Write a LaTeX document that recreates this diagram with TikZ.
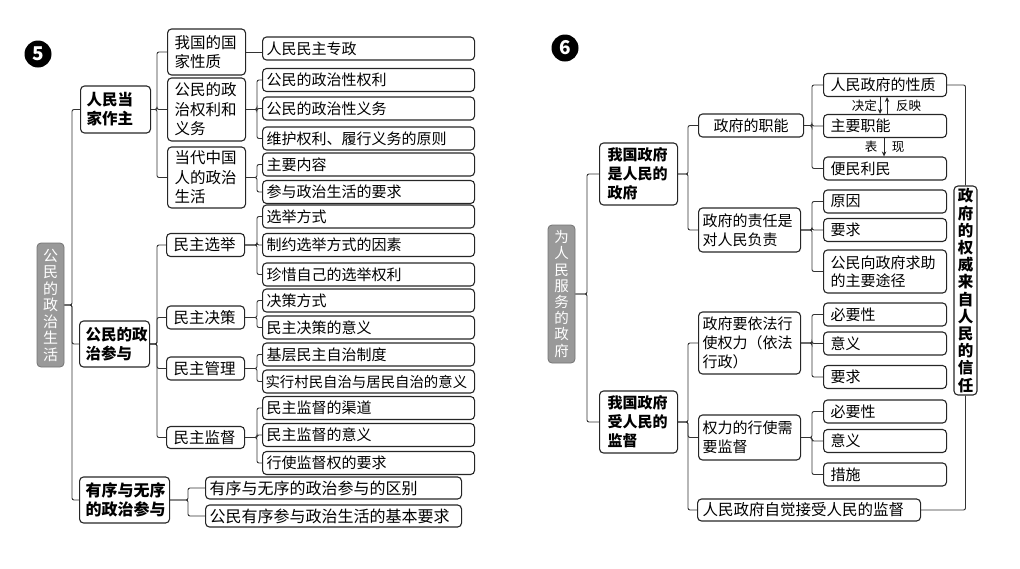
\documentclass[tikz,border=0pt]{standalone}
\usepackage{fontspec}
\setmainfont{Noto Sans CJK SC}
\usetikzlibrary{arrows.meta}
\newcommand\fsz[2]{\fontsize{#1}{#2}\selectfont}
\begin{document}
\begin{tikzpicture}[x=1pt,y=-1pt,
  box/.style={draw=black!85, line width=1.1pt, rounded corners=4pt, inner ysep=0pt, anchor=west, align=left},
  lvone/.style={box, font=\bfseries\fsz{15.5}{19}, inner xsep=6pt, text width=58pt},
  lvtwo/.style={box, font=\fsz{15.5}{19.5}, inner xsep=7pt, text width=64pt},
  leaf/.style={box, font=\fsz{15}{18}, inner xsep=4pt, text width=204pt, minimum height=23pt},
  bleaf/.style={box, font=\fsz{16}{18}, inner xsep=4pt, text width=248pt, minimum height=22pt},
  rone/.style={box, font=\bfseries\fsz{15}{19}, inner xsep=8pt, text width=62pt, minimum height=62pt},
  rtwo/.style={box, font=\fsz{15}{19}, inner xsep=4pt, text width=94pt},
  rthree/.style={box, font=\fsz{15}{18.5}, inner xsep=7pt, text width=109pt, minimum height=23pt},
  graybox/.style={draw=black!55, fill=black!40, line width=0.8pt, rounded corners=4pt, text=white, align=center, inner sep=0pt, minimum width=27pt},
  badge/.style={circle, fill=black, text=white, inner sep=0pt, minimum size=27pt, font=\bfseries\fsz{19}{19}},
  conn/.style={draw=black!80, line width=0.9pt, rounded corners=2pt},
  arr/.style={draw=black!85, line width=0.9pt, -{Stealth[length=5pt,width=4.5pt]}},
  lbl/.style={font=\fsz{12.5}{13}, inner sep=0pt}]
\useasboundingbox (0,0) rectangle (1020,568);

% ===== Diagram 5 =====
\node[badge] (b5) at (38,54) {5};
\node[graybox, minimum height=124pt, font=\fsz{15}{16.5}] (g1) at (50.5,305) {公\\民\\的\\政\\治\\生\\活};

\node[lvone, minimum height=47pt] (a1) at (80,109.5) {人民当\\家作主};
\node[lvone, minimum height=46pt] (a2) at (79,344) {公民的政\\治参与};
\node[lvone, minimum height=46pt, text width=78pt, font=\bfseries\fsz{16}{19}] (a3) at (79,500) {有序与无序\\的政治参与};

\node[lvtwo, minimum height=46pt] (n1) at (167,52) {我国的国\\家性质};
\node[lvtwo, minimum height=63pt] (n2) at (167,109.5) {公民的政\\治权利和\\义务};
\node[lvtwo, minimum height=61pt] (n3) at (167,177.5) {当代中国\\人的政治\\生活};
\node[lvtwo, minimum height=23pt] (n4) at (166,245) {民主选举};
\node[lvtwo, minimum height=23pt] (n5) at (166,317.5) {民主决策};
\node[lvtwo, minimum height=23pt] (n6) at (166,368.5) {民主管理};
\node[lvtwo, minimum height=22pt] (n7) at (166,437.5) {民主监督};

\node[leaf] (l1) at (262,48.5) {人民民主专政};
\node[leaf] (l2) at (262,80) {公民的政治性权利};
\node[leaf] (l3) at (262,108.5) {公民的政治性义务};
\node[leaf] (l4) at (262,138.5) {维护权利、履行义务的原则};
\node[leaf] (l5) at (262,164.5) {主要内容};
\node[leaf] (l6) at (262,192) {参与政治生活的要求};
\node[leaf] (l7) at (262,216.5) {选举方式};
\node[leaf] (l8) at (262,245) {制约选举方式的因素};
\node[leaf] (l9) at (262,274.5) {珍惜自己的选举权利};
\node[leaf] (l10) at (262,300.5) {决策方式};
\node[leaf] (l11) at (262,327.5) {民主决策的意义};
\node[leaf] (l12) at (262,354.5) {基层民主自治制度};
\node[leaf, font=\fsz{14.4}{18}, inner xsep=3pt, text width=206pt] (l13) at (262,381.5) {实行村民自治与居民自治的意义};
\node[leaf] (l14) at (262,408) {民主监督的渠道};
\node[leaf] (l15) at (262,435) {民主监督的意义};
\node[leaf] (l16) at (262,463) {行使监督权的要求};
\node[bleaf] (l17) at (205,488) {有序与无序的政治参与的区别};
\node[bleaf] (l18) at (205,516) {公民有序参与政治生活的基本要求};

\coordinate (t1) at (72,0);
\coordinate (t2) at (157,0);
\coordinate (t3) at (257,0);
\coordinate (t4) at (188,0);

\foreach \c in {a1,a2,a3} \draw[conn] (g1.east) -- (g1.east -| t1) |- (\c.west);
\foreach \c in {n1,n2,n3} \draw[conn] (a1.east) -- (a1.east -| t2) |- (\c.west);
\foreach \c in {n4,n5,n6,n7} \draw[conn] (a2.east) -- (a2.east -| t2) |- (\c.west);
\draw[conn] (n1.east) -- (n1.east -| l1.west);
\foreach \c in {l2,l3,l4} \draw[conn] (n2.east) -- (n2.east -| t3) |- (\c.west);
\foreach \c in {l5,l6} \draw[conn] (n3.east) -- (n3.east -| t3) |- (\c.west);
\foreach \c in {l7,l8,l9} \draw[conn] (n4.east) -- (n4.east -| t3) |- (\c.west);
\foreach \c in {l10,l11} \draw[conn] (n5.east) -- (n5.east -| t3) |- (\c.west);
\foreach \c in {l12,l13} \draw[conn] (n6.east) -- (n6.east -| t3) |- (\c.west);
\foreach \c in {l14,l15,l16} \draw[conn] (n7.east) -- (n7.east -| t3) |- (\c.west);
\foreach \c in {l17,l18} \draw[conn] (a3.east) -- (a3.east -| t4) |- (\c.west);

% ===== Diagram 6 =====
\node[badge] (b6) at (565,48) {6};
\node[graybox, minimum height=138pt, font=\fsz{14.5}{16.2}] (g2) at (561.5,294) {为\\人\\民\\服\\务\\的\\政\\府};

\node[rone] (r1) at (599,174) {我国政府\\是人民的\\政府};
\node[rone] (r2) at (599,422) {我国政府\\受人民的\\监督};

\node[rtwo, minimum height=23pt, text width=97pt, align=center] (s1) at (698,125.5) {政府的职能};
\node[rtwo, minimum height=44pt] (s2) at (698,230) {政府的责任是\\对人民负责};
\node[rtwo, minimum height=62pt] (s3) at (698,343) {政府要依法行\\使权力（依法\\行政）};
\node[rtwo, minimum height=45pt] (s4) at (698,437.5) {权力的行使需\\要监督};
\node[box, font=\fsz{15.5}{18}, inner xsep=5pt, text width=213pt, minimum height=22pt] (s5) at (697,510) {人民政府自觉接受人民的监督};

\node[rthree] (q1) at (823,85) {人民政府的性质};
\node[rthree] (q2) at (823,126) {主要职能};
\node[rthree] (q3) at (823,168.5) {便民利民};
\node[rthree] (q4) at (823,201.5) {原因};
\node[rthree] (q5) at (823,230) {要求};
\node[rthree, minimum height=43pt] (q6) at (823,271.5) {公民向政府求助\\的主要途径};
\node[rthree] (q7) at (823,314.5) {必要性};
\node[rthree] (q8) at (823,343.5) {意义};
\node[rthree] (q9) at (823,377) {要求};
\node[rthree] (q10) at (823,411.5) {必要性};
\node[rthree] (q11) at (823,441) {意义};
\node[rthree] (q12) at (823,474.5) {措施};

\node[box, anchor=center, align=center, font=\bfseries\fsz{15.5}{17.2}, inner sep=0pt, minimum width=23pt, minimum height=209pt] (au) at (965.5,290.5) {政\\府\\的\\权\\威\\来\\自\\人\\民\\的\\信\\任};

\coordinate (u1) at (587,0);
\coordinate (u2) at (688,0);
\coordinate (u3) at (812,0);

\foreach \c in {r1,r2} \draw[conn] (g2.east) -- (g2.east -| u1) |- (\c.west);
\foreach \c in {s1,s2} \draw[conn] (r1.east) -- (r1.east -| u2) |- (\c.west);
\foreach \c in {s3,s4,s5} \draw[conn] (r2.east) -- (r2.east -| u2) |- (\c.west);
\foreach \c in {q1,q2,q3} \draw[conn] (s1.east) -- (s1.east -| u3) |- (\c.west);
\foreach \c in {q4,q5,q6} \draw[conn] (s2.east) -- (s2.east -| u3) |- (\c.west);
\foreach \c in {q7,q8,q9} \draw[conn] (s3.east) -- (s3.east -| u3) |- (\c.west);
\foreach \c in {q10,q11,q12} \draw[conn] (s4.east) -- (s4.east -| u3) |- (\c.west);
\draw[conn] (q1.east) -| (au.north);
\draw[conn] (au.south) |- (s5.east);

\draw[arr] ([xshift=-5pt]q1.south) -- ([xshift=-5pt]q2.north);
\draw[arr] ([xshift=2pt]q2.north) -- ([xshift=2pt]q1.south);
\draw[arr] ([xshift=-1pt]q2.south) -- ([xshift=-1pt]q3.north);
\node[lbl, anchor=east] (k1) at (877,106) {决定};
\node[lbl, anchor=west] (k2) at (896,106) {反映};
\node[lbl] (k3) at (871,147) {表};
\node[lbl] (k4) at (898,147) {现};
\end{tikzpicture}
\end{document}
